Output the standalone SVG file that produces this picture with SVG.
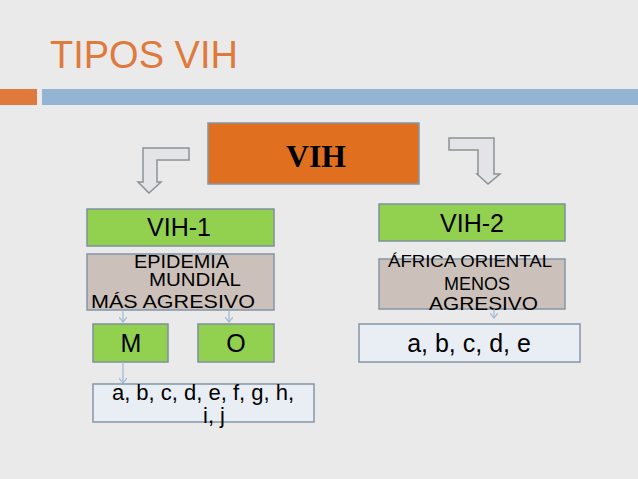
<svg xmlns="http://www.w3.org/2000/svg" width="638" height="479" viewBox="0 0 638 479">
<style>
text{font-family:"Liberation Sans",Arial,sans-serif;fill:#000}
.g{fill:#92D050;stroke:#7F8F9F;stroke-width:1.5}
.b{fill:#CCC0BA;stroke:#8496A8;stroke-width:1.5}
.l{fill:#E9EEF5;stroke:#8496A8;stroke-width:1.5}
.ba{fill:#E4E4E6;stroke:#8A9298;stroke-width:1.5}
.c{stroke:#9DB7D3;stroke-width:1.2;fill:none}
</style>
<defs>
<marker id="d" markerWidth="8" markerHeight="6" refX="4" refY="5" viewBox="0 0 8 6" markerUnits="userSpaceOnUse" orient="0"><path d="M0,0L4,5L8,0" fill="none" stroke="#9DB7D3" stroke-width="1.2"/></marker></defs>
<rect width="638" height="479" fill="#EBEAEA"/>
<text x="50" y="68" font-size="38" style="fill:#E07A3C">TIPOS VIH</text>
<rect x="0" y="89" width="37" height="16" fill="#E07A3C"/>
<rect x="42" y="89" width="596" height="16" fill="#93B4D2"/>
<g id="vih"><rect x="208" y="123" width="211" height="61" fill="#E07020" stroke="#8496A8" stroke-width="1.5"/>
<text x="316" y="167" font-size="31" font-weight="bold" text-anchor="middle" style="font-family:'Liberation Serif',serif" textLength="60" lengthAdjust="spacingAndGlyphs">VIH</text></g>
<g id="arrowL"><path class="ba" d="M189,148V160H157V182H161L149,193L138,182H143V148Z"/></g>
<g id="arrowR"><path class="ba" d="M449,138V150H478V174H477L488,184L500,174H494V138Z"/></g>
<g id="vih1"><rect class="g" x="87" y="209" width="187" height="37"/><text x="179" y="236" font-size="25" text-anchor="middle">VIH-1</text></g>
<g id="vih2"><rect class="g" x="379" y="204" width="186" height="37"/><text x="472" y="232" font-size="25" text-anchor="middle">VIH-2</text></g>
<g id="epi"><rect class="b" x="87" y="254" width="187" height="56"/>
<text font-size="18" lengthAdjust="spacingAndGlyphs"><tspan x="134" y="268" textLength="95" lengthAdjust="spacingAndGlyphs">EPIDEMIA</tspan><tspan x="149" y="286" textLength="92" lengthAdjust="spacingAndGlyphs">MUNDIAL</tspan><tspan x="91" y="308" textLength="164" lengthAdjust="spacingAndGlyphs">MÁS AGRESIVO</tspan></text></g>
<g id="afr"><rect class="b" x="379" y="259" width="186" height="50"/>
<text font-size="17"><tspan x="388" y="267" textLength="164" lengthAdjust="spacingAndGlyphs">ÁFRICA ORIENTAL</tspan><tspan x="444" y="290" font-size="19" textLength="66" lengthAdjust="spacingAndGlyphs">MENOS</tspan><tspan x="429" y="310" font-size="19" textLength="109" lengthAdjust="spacingAndGlyphs">AGRESIVO</tspan></text></g>
<g id="m"><rect class="g" x="93" y="324" width="75" height="38"/><text x="131" y="352" font-size="25" text-anchor="middle">M</text></g>
<g id="o"><rect class="g" x="198" y="324" width="76" height="38"/><text x="236" y="352" font-size="25" text-anchor="middle">O</text></g>
<g id="ae"><rect class="l" x="359" y="324" width="221" height="38"/><text x="469" y="352" font-size="25" text-anchor="middle">a, b, c, d, e</text></g>
<g id="aj"><rect class="l" x="93" y="384" width="221" height="38"/><text font-size="22" text-anchor="middle"><tspan x="203" y="400">a, b, c, d, e, f, g, h,</tspan><tspan x="214" y="423">i, j</tspan></text></g>
<g id="connectors">
<path class="c" d="M123,310V322" marker-end="url(#d)"/>
<path class="c" d="M229,310V322" marker-end="url(#d)"/>
<path class="c" d="M494,309V318" marker-end="url(#d)"/>
<path class="c" d="M123,362V383" marker-end="url(#d)"/>
</g>
</svg>
